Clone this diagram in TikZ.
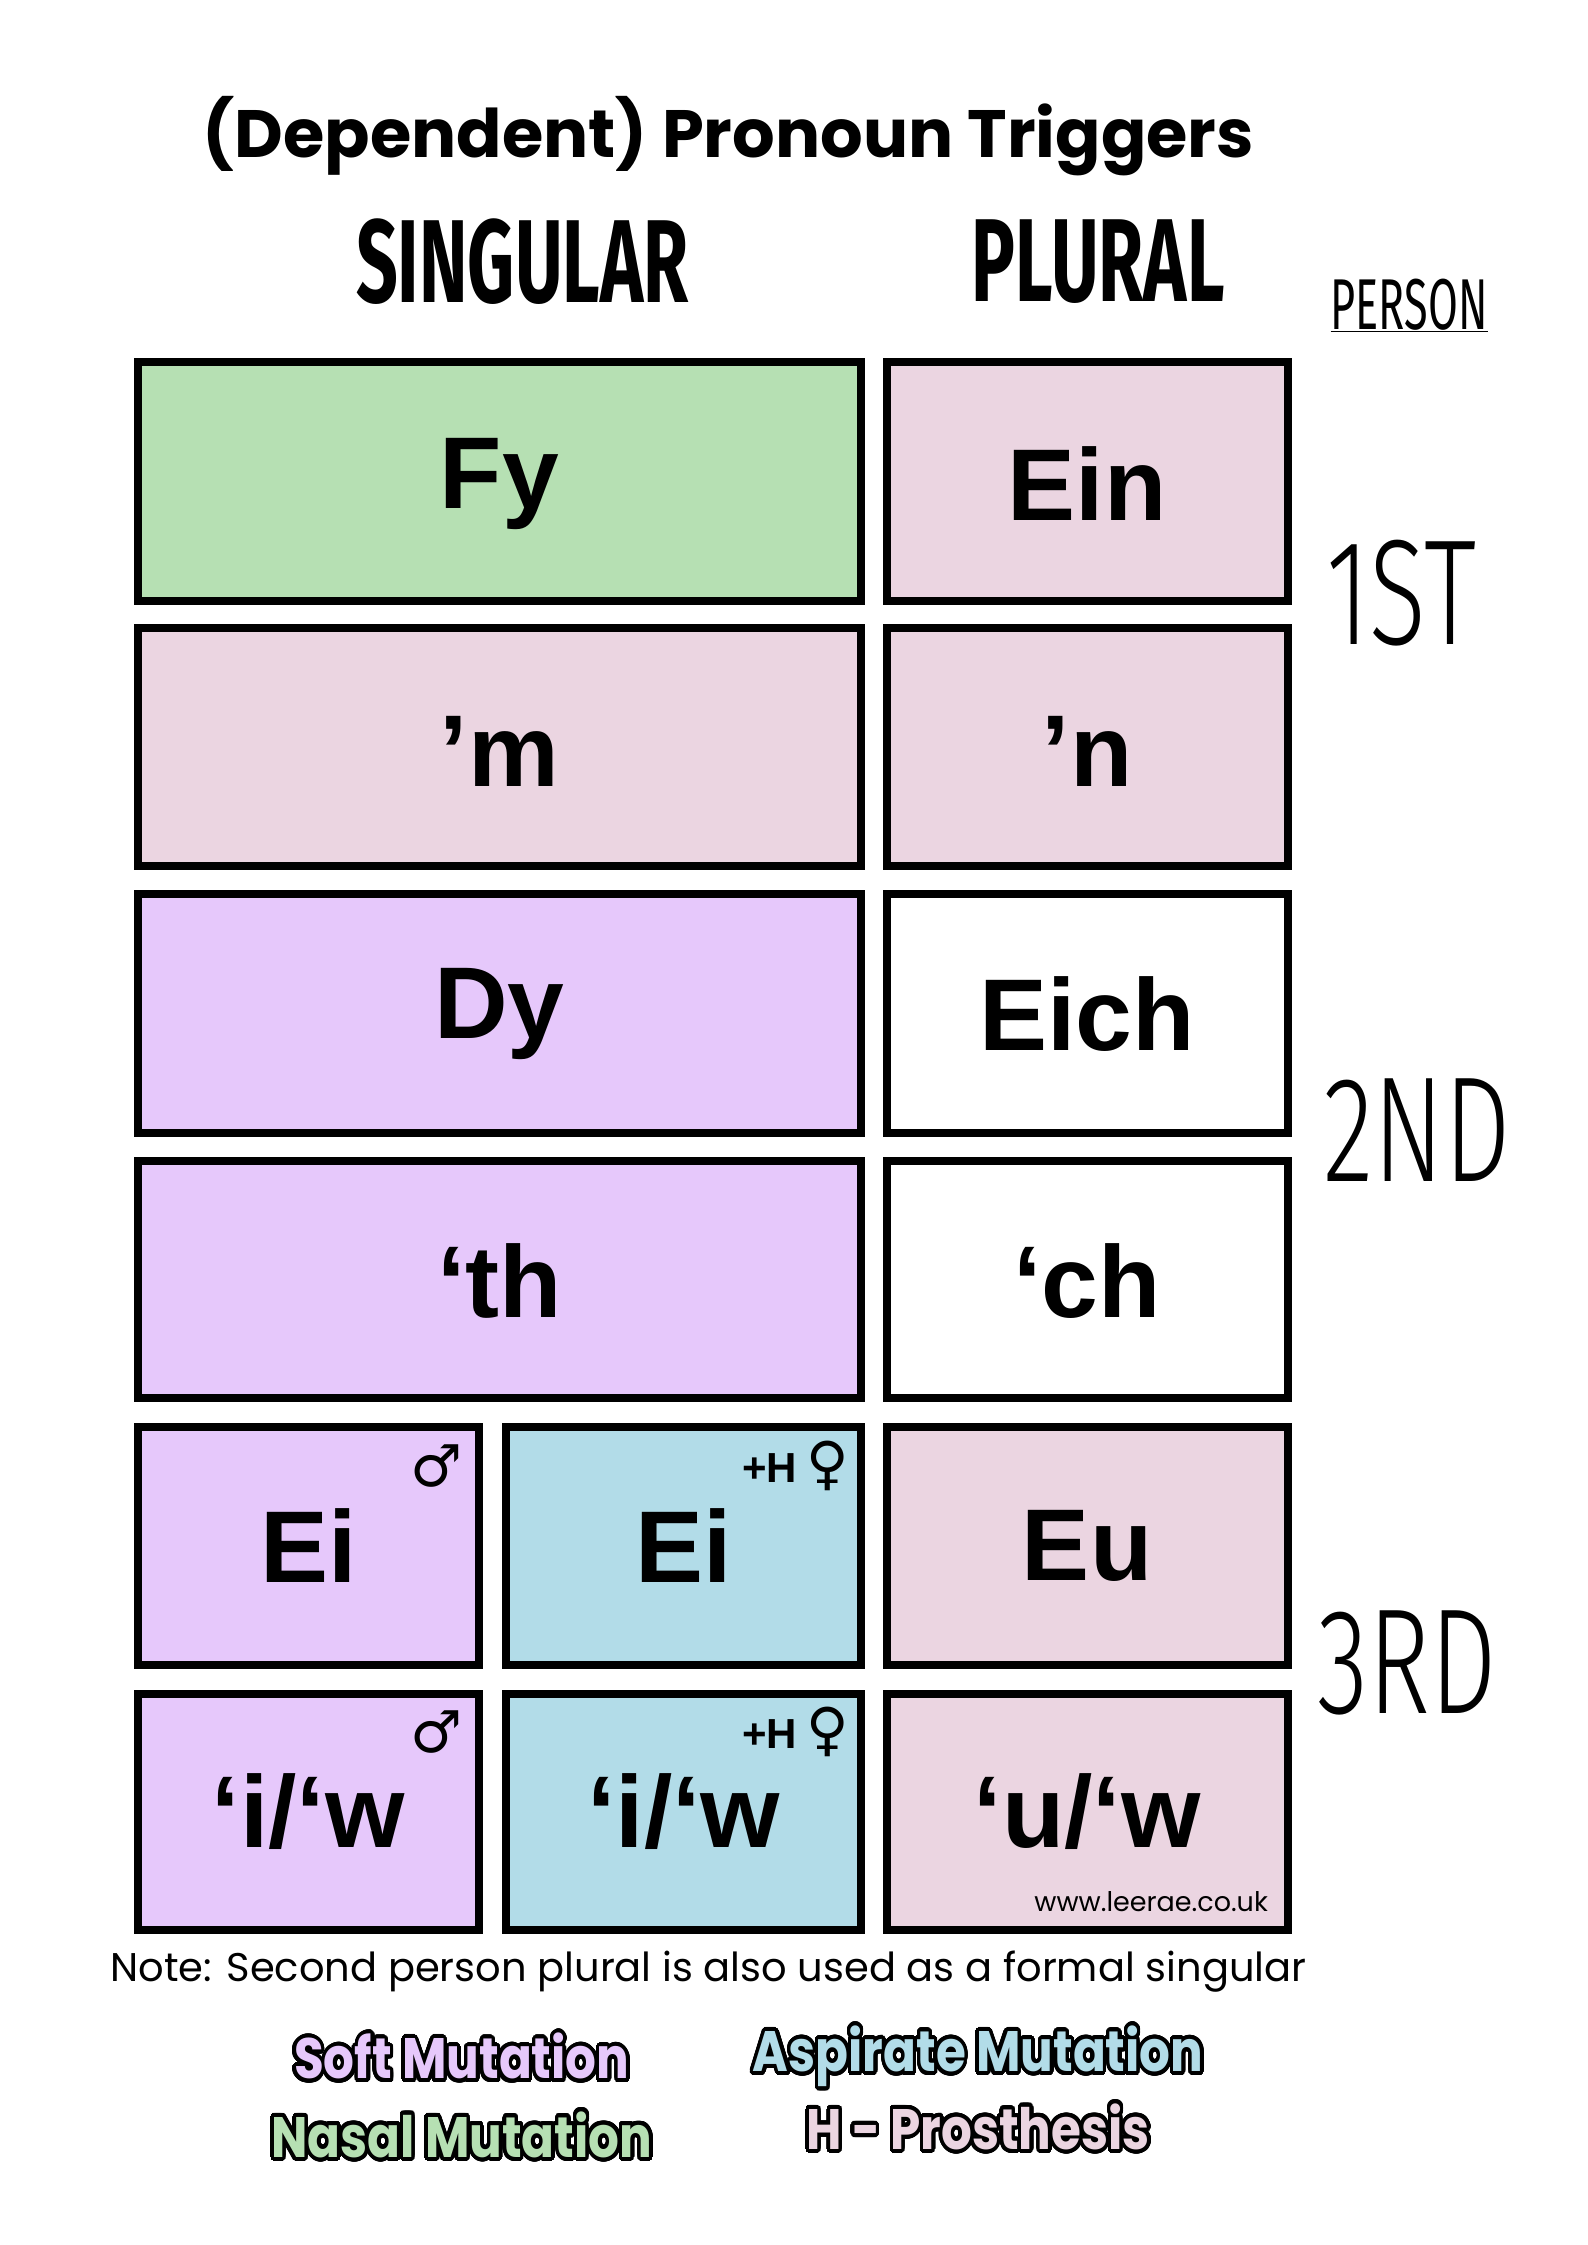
\documentclass[tikz,border=0pt]{standalone}
\usepackage{fontspec}
\usepackage{contour}
\setmainfont{Liberation Sans}
\newfontfamily\boxf{Liberation Sans}[BoldFont={* Bold}]
\newfontfamily\popp{Poppins}[BoldFont={* Bold}]
\newfontfamily\sym{DejaVu Sans}
\newfontfamily\cond{Fira Sans}
\newfontfamily\thin{Fira Sans Light}
\definecolor{cgreen}{HTML}{B6E0B3}
\definecolor{cpink}{HTML}{EBD5E1}
\definecolor{cpurple}{HTML}{E6C8FB}
\definecolor{cblue}{HTML}{B2DCE8}
\contourlength{4pt}
\contournumber{40}
\tikzset{
 cell/.style={draw=black,line width=8pt},
 big/.style={font=\boxf\bfseries\fontsize{102}{102}\selectfont},
 tag/.style={font=\boxf\bfseries\fontsize{42}{42}\selectfont,anchor=east},
 gsym/.style={font=\sym\bfseries\fontsize{58}{58}\selectfont,anchor=east},
 hdr/.style={font=\cond\bfseries\fontsize{118}{118}\selectfont},
 pers/.style={font=\thin\fontsize{150}{150}\selectfont,xscale=0.7},
 leg/.style={font=\popp\bfseries\fontsize{57}{57}\selectfont,xscale=0.85},
}
\begin{document}
\begin{tikzpicture}[x=1pt,y=-1pt]
\useasboundingbox (0,0) rectangle (1587,2245);
\begin{scope}[x=0.991pt,y=-0.991pt]
\node[font=\popp\bfseries\fontsize{67}{67}\selectfont] (title) at (735,137) {(Dependent) Pronoun Triggers};
\node[hdr,xscale=0.62] (sing) at (527,264) {SINGULAR};
\node[hdr,xscale=0.62] (plur) at (1108,264) {PLURAL};
\node[font=\cond\fontsize{72}{72}\selectfont,xscale=0.6] (person) at (1422,308) {\underline{PERSON}};
\node[pers] (p1) at (1414,599) {1ST};
\node[pers] (p2) at (1430,1140) {2ND};
\node[pers] (p3) at (1420,1678) {3RD};
% row 1
\draw[cell,fill=cgreen] (139,365) rectangle (869,606);
\node[big] (fy) at (504,488) {Fy};
\draw[cell,fill=cpink] (895,365) rectangle (1300,606);
\node[big] (ein) at (1097,488) {Ein};
% row 2
\draw[cell,fill=cpink] (139,634) rectangle (869,874);
\node[big] (m) at (504,758) {’m};
\draw[cell,fill=cpink] (895,634) rectangle (1300,874);
\node[big] (n) at (1097,758) {’n};
% row 3
\draw[cell,fill=cpurple] (139,902) rectangle (869,1143);
\node[big] (dy) at (504,1023) {Dy};
\draw[cell,fill=white] (895,902) rectangle (1300,1143);
\node[big] (eich) at (1097,1023) {Eich};
% row 4
\draw[cell,fill=cpurple] (139,1172) rectangle (869,1411);
\node[big] (th) at (504,1293) {‘th};
\draw[cell,fill=white] (895,1172) rectangle (1300,1411);
\node[big] (ch) at (1097,1293) {‘ch};
% row 5
\draw[cell,fill=cpurple] (139,1440) rectangle (483,1680);
\node[big] (ei1) at (311,1560) {Ei};
\node[gsym] (m1) at (470,1479) {♂};
\draw[cell,fill=cblue] (511,1440) rectangle (869,1680);
\node[big] (ei2) at (690,1560) {Ei};
\node[tag] (h1) at (808,1481) {+H};
\node[gsym] (f1) at (860,1479) {♀};
\draw[cell,fill=cpink] (895,1440) rectangle (1300,1680);
\node[big] (eu) at (1097,1560) {Eu};
% row 6
\draw[cell,fill=cpurple] (139,1709) rectangle (483,1948);
\node[big] (iw1) at (311,1828) {‘i/‘w};
\node[gsym] (m2) at (470,1748) {♂};
\draw[cell,fill=cblue] (511,1709) rectangle (869,1948);
\node[big] (iw2) at (690,1828) {‘i/‘w};
\node[tag] (h2) at (808,1750) {+H};
\node[gsym] (f2) at (860,1748) {♀};
\draw[cell,fill=cpink] (895,1709) rectangle (1300,1948);
\node[big] (uw) at (1097,1828) {‘u/‘w};
\node[font=\popp\fontsize{27}{27}\selectfont,anchor=east] (www) at (1283,1919) {www.leerae.co.uk};
% note
\node[font=\popp\fontsize{40}{40}\selectfont] (note) at (715,1990) {Note: Second person plural is also used as a formal singular};
% legend
\node[leg] (soft) at (466,2077) {\contour{black}{\textcolor{cpurple}{Soft Mutation}}};
\node[leg] (nasal) at (466,2156) {\contour{black}{\textcolor{cgreen}{Nasal Mutation}}};
\node[leg] (asp) at (987,2077) {\contour{black}{\textcolor{cblue}{Aspirate Mutation}}};
\node[leg] (hp) at (987,2148) {\contour{black}{\textcolor{cpink}{H - Prosthesis}}};
\end{scope}
\end{tikzpicture}
\end{document}
